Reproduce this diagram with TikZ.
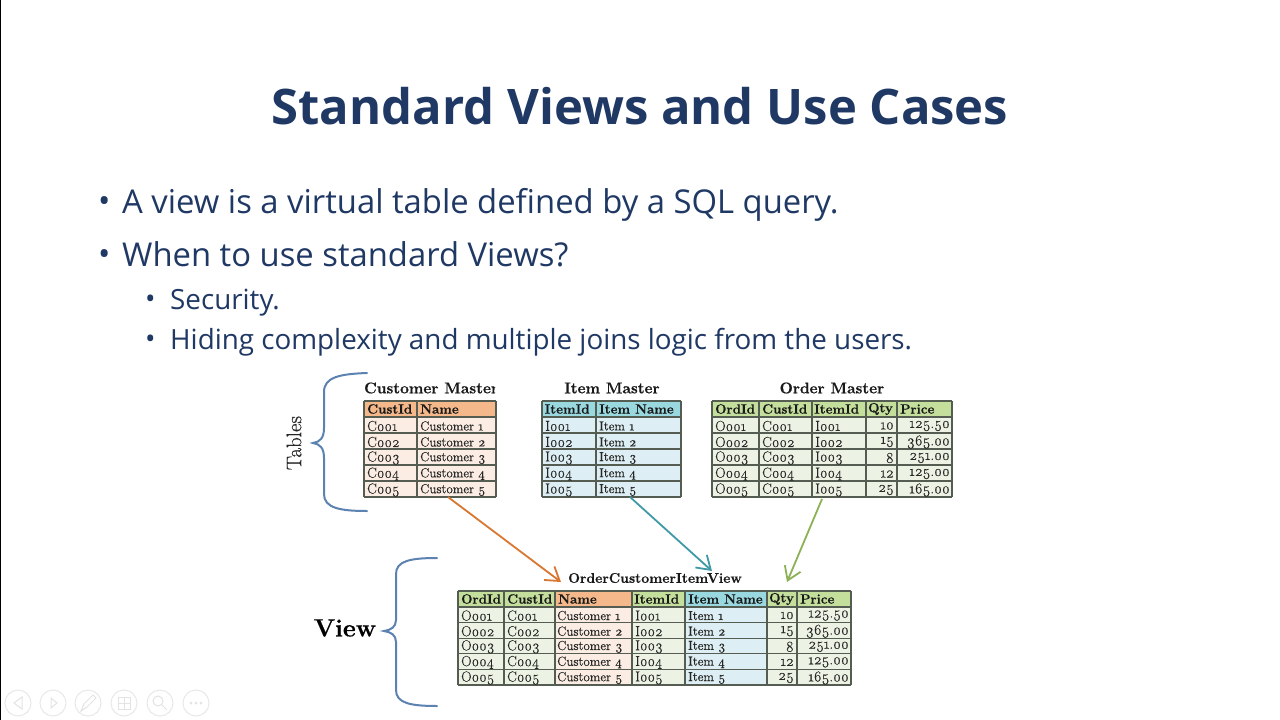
\documentclass[tikz,border=0pt]{standalone}
\usepackage{fontspec}
\usepackage{xcolor}
\usetikzlibrary{arrows.meta, positioning}
\setmainfont{Open Sans}
\newfontfamily\tablefont[Numbers=OldStyle, RawFeature={embolden=0.6}]{Latin Modern Roman}

\definecolor{slideblue}{HTML}{1F3864}
\definecolor{bracecol}{HTML}{5B82B0}
\definecolor{gridcol}{HTML}{555C52}
\definecolor{custhead}{HTML}{F4B88A}
\definecolor{custbody}{HTML}{FBEDE3}
\definecolor{itemhead}{HTML}{9AD8E0}
\definecolor{itembody}{HTML}{DDEFF4}
\definecolor{ordhead}{HTML}{C4DE9C}
\definecolor{ordbody}{HTML}{EDF3E4}
\definecolor{custflow}{HTML}{D9762F}
\definecolor{itemflow}{HTML}{3F9AA5}
\definecolor{ordflow}{HTML}{8DB255}

\tikzset{
    bodytext/.style={anchor=base west, inner sep=0pt, text=slideblue, font=\fontsize{32.8}{33}\selectfont},
    subtext/.style={anchor=base west, inner sep=0pt, text=slideblue, font=\fontsize{27.8}{28}\selectfont},
    cell/.style={anchor=west, inner sep=0pt, text=black!85, font=\tablefont\fontsize{13}{13}\selectfont},
    idcell/.style={cell, font=\tablefont\fontsize{14.5}{14}\selectfont},
    numcell/.style={cell, anchor=east, font=\tablefont\fontsize{15}{15}\selectfont},
    headcell/.style={anchor=west, inner sep=0pt, text=black!90, font=\tablefont\bfseries\fontsize{13.4}{14}\selectfont},
    tabletitle/.style={inner sep=0pt, text=black!90, font=\tablefont\bfseries\fontsize{15.5}{16}\selectfont},
    gridline/.style={draw=gridcol, line width=1.2pt},
    bracket/.style={draw=bracecol, line width=2pt, line cap=round},
    flow/.style={line width=1.8pt, -{Straight Barb[length=13pt, width=17pt, line width=1.8pt]}},
    ctrl/.style={circle, draw=black!9, line width=1pt, minimum size=26pt, inner sep=0pt},
    ctrlmark/.style={draw=black!11, line width=1pt}
}

% one column: head and body fill
\newcommand{\colfill}[7]{
    \fill[#6] (#1,#3) rectangle (#2,#4);
    \fill[#7] (#1,#4) rectangle (#2,#5);
}

\begin{document}
\begin{tikzpicture}[x=1pt, y=-1pt]
    \useasboundingbox (0,0) rectangle (1280,720);
    \fill[white] (0,0) rectangle (1280,720);
    \draw[black, line width=1.5pt] (0.5,0) -- (0.5,720);

    % Title and bullets
    \node[inner sep=0pt, anchor=base, text=slideblue, font=\bfseries\fontsize{49}{49}\selectfont] (title) at (640,124) {Standard Views and Use Cases};
    \node[bodytext] (dot1) at (98,212) {•};
    \node[bodytext] (line1) at (122,213) {A view is a virtual table defined by a SQL query.};
    \node[bodytext] (dot2) at (98,265) {•};
    \node[bodytext] (line2) at (122,266) {When to use standard Views?};
    \node[subtext] (dot3) at (145,308) {•};
    \node[subtext] (line3) at (170,309.5) {Security.};
    \node[subtext] (dot4) at (145,348) {•};
    \node[subtext] (line4) at (170,349.5) {Hiding complexity and multiple joins logic from the users.};

    % Braces
    \draw[bracket] (367,373) .. controls (340,374) and (324,377) .. (324,392) -- (324,428)
        .. controls (324,438) and (320,442) .. (313,443)
        .. controls (320,444) and (324,448) .. (324,458) -- (324,494)
        .. controls (324,508) and (340,511) .. (367,511);
    \draw[bracket] (437,558) .. controls (410,558) and (396,561) .. (396,574) -- (396,620)
        .. controls (396,627) and (391,630) .. (384,631)
        .. controls (391,632) and (396,635) .. (396,642) -- (396,690)
        .. controls (396,703) and (410,706) .. (437,706);
    \node[rotate=90, inner sep=0pt, font=\tablefont\fontsize{21}{21}\selectfont, text=black!85] (tables) at (294,443) {Tables};
    \node[inner sep=0pt, font=\tablefont\bfseries\fontsize{25}{25}\selectfont] (view) at (345,628) {View};

    % Customer Master
    \begin{scope}
        \clip (360,375) rectangle (495,400);
        \node[tabletitle, anchor=west] (custTitle) at (364,388) {Customer Master};
    \end{scope}
    \colfill{364}{496}{401}{417}{497}{custhead}{custbody}
    \foreach \y in {401,417,433,449,465,481,497}
        \draw[gridline] (364,\y) -- (496,\y);
    \foreach \x in {364,417,496}
        \draw[gridline] (\x,401) -- (\x,497);
    \node[headcell] (custId) at (367,409) {CustId};
    \node[headcell] (custName) at (420,409) {Name};
    \foreach \r in {1,...,5} {
        \node[idcell] (cust\r) at (367,{410+16*\r}) {C00\r};
        \node[cell] (custN\r) at (420,{410+16*\r}) {Customer \r};
    }

    % Item Master
    \node[tabletitle] (itemTitle) at (612,388) {Item Master};
    \colfill{542}{681}{401}{417}{497}{itemhead}{itembody}
    \foreach \y in {401,417,433,449,465,481,497}
        \draw[gridline] (542,\y) -- (681,\y);
    \foreach \x in {542,596,681}
        \draw[gridline] (\x,401) -- (\x,497);
    \node[headcell] (itemId) at (544.5,409) {ItemId};
    \node[headcell] (itemName) at (599,409) {Item Name};
    \foreach \r in {1,...,5} {
        \node[idcell] (item\r) at (545,{410+16*\r}) {I00\r};
        \node[cell] (itemN\r) at (599,{410+16*\r}) {Item \r};
    }

    % Order Master
    \node[tabletitle] (ordTitle) at (832,388) {Order Master};
    \colfill{712}{952}{401}{417}{497}{ordhead}{ordbody}
    \foreach \y in {401,417,433,449,465,481,497}
        \draw[gridline] (712,\y) -- (952,\y);
    \foreach \x in {712,759,812,866,897,952}
        \draw[gridline] (\x,401) -- (\x,497);
    \node[headcell] (ordId) at (715,409) {OrdId};
    \node[headcell] (ordCust) at (762,409) {CustId};
    \node[headcell] (ordItem) at (814,409) {ItemId};
    \node[headcell] (ordQty) at (868,409) {Qty};
    \node[headcell] (ordPrice) at (900,409) {Price};
    \foreach \r/\q/\p in {1/10/125.50, 2/15/365.00, 3/8/251.00, 4/12/125.00, 5/25/165.00} {
        \node[idcell] (ord\r) at (715,{410+16*\r}) {O00\r};
        \node[idcell] (ordC\r) at (762,{410+16*\r}) {C00\r};
        \node[idcell] (ordI\r) at (815,{410+16*\r}) {I00\r};
        \node[numcell] (ordQ\r) at (894,{410+16*\r}) {\q};
        \node[numcell] (ordP\r) at (950,{410+16*\r}) {\p};
    }

    % View table
    \node[tabletitle, font=\tablefont\bfseries\fontsize{14}{14}\selectfont] (viewTitle) at (655,578) {OrderCustomerItemView};
    \colfill{458}{555}{591}{607}{685}{ordhead}{ordbody}
    \colfill{555}{632}{591}{607}{685}{custhead}{custbody}
    \colfill{632}{685}{591}{607}{685}{ordhead}{ordbody}
    \colfill{685}{767}{591}{607}{685}{itemhead}{itembody}
    \colfill{767}{851}{591}{607}{685}{ordhead}{ordbody}
    \foreach \y in {591,607,622.6,638.2,653.8,669.4,685}
        \draw[gridline] (458,\y) -- (851,\y);
    \foreach \x in {458,504,555,632,685,767,797,851}
        \draw[gridline] (\x,591) -- (\x,685);
    \node[headcell] (vOrd) at (461,599) {OrdId};
    \node[headcell] (vCust) at (507,599) {CustId};
    \node[headcell] (vName) at (558,599) {Name};
    \node[headcell] (vItem) at (634,599) {ItemId};
    \node[headcell] (vItemName) at (688,599) {Item Name};
    \node[headcell] (vQty) at (769,599) {Qty};
    \node[headcell] (vPrice) at (800,599) {Price};
    \foreach \r/\q/\p in {1/10/125.50, 2/15/365.00, 3/8/251.00, 4/12/125.00, 5/25/165.00} {
        \node[idcell] (vO\r) at (461,{600+15.6*\r}) {O00\r};
        \node[idcell] (vC\r) at (507,{600+15.6*\r}) {C00\r};
        \node[cell] (vN\r) at (557,{600+15.6*\r}) {Customer \r};
        \node[idcell] (vI\r) at (635,{600+15.6*\r}) {I00\r};
        \node[cell] (vM\r) at (688,{600+15.6*\r}) {Item \r};
        \node[numcell] (vQ\r) at (794,{600+15.6*\r}) {\q};
        \node[numcell] (vP\r) at (849,{600+15.6*\r}) {\p};
    }

    % Arrows
    \coordinate (custOut) at (448,497);
    \coordinate (itemOut) at (630,497);
    \coordinate (ordOut) at (822,499);
    \coordinate (custIn) at (561,582);
    \coordinate (itemIn) at (712,571);
    \coordinate (ordIn) at (787,582);
    \draw[flow, draw=custflow] (custOut) -- (custIn);
    \draw[flow, draw=itemflow] (itemOut) -- (itemIn);
    \draw[flow, draw=ordflow] (ordOut) -- (ordIn);

    % Slide controls
    \foreach \x/\n in {18/a,53/b,88/c,124/d,160/e,196/f}
        \node[ctrl] (ctrl\n) at (\x,703) {};
    \draw[ctrlmark] (22,697) -- (14,703) -- (22,709) -- cycle;
    \draw[ctrlmark] (51,698) -- (57,703) -- (51,708) -- cycle;
    \draw[ctrlmark] (81,711) -- (84,704) -- (93,695) -- (96,698) -- (87,707) -- cycle;
    \draw[ctrlmark] (118,697) rectangle (130,709);
    \draw[ctrlmark] (124,697) -- (124,709) (118,703) -- (130,703);
    \draw[ctrlmark] (158,701) circle (5pt);
    \draw[ctrlmark] (162,705) -- (167,710);
    \foreach \x in {191,196,201}
        \fill[black!11] (\x,703) circle (1.5pt);
\end{tikzpicture}
\end{document}
